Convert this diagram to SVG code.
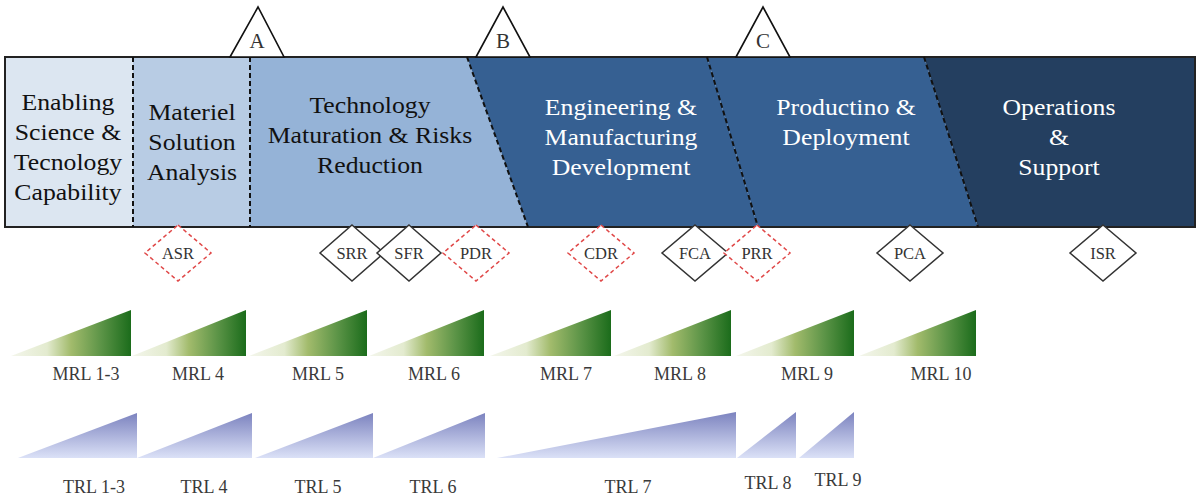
<svg xmlns="http://www.w3.org/2000/svg" width="1200" height="497" viewBox="0 0 1200 497" font-family="'Liberation Serif', 'Times New Roman', serif">
<defs>
<linearGradient id="mrl" x1="0" y1="0" x2="1" y2="0">
<stop offset="0" stop-color="#f4f6ec"/>
<stop offset="0.3" stop-color="#e3ebcf"/>
<stop offset="0.5" stop-color="#a2bb6c"/>
<stop offset="0.75" stop-color="#5c9447"/>
<stop offset="1" stop-color="#1b6c1b"/>
</linearGradient>
<linearGradient id="trl" x1="0" y1="0" x2="0" y2="1">
<stop offset="0" stop-color="#7c83bf"/>
<stop offset="1" stop-color="#dbe1f7"/>
</linearGradient>
<style>
.ph{font-size:23px;text-anchor:middle}
.dk{fill:#111}
.wt{fill:#ffffff}
.div{stroke:#111;stroke-width:2;stroke-dasharray:5 3;fill:none}
.ms{fill:#fff;stroke:#111;stroke-width:1.6}
.msl{font-size:21px;fill:#333;text-anchor:middle}
.rv{fill:#fff;stroke:#333;stroke-width:1.5}
.rvr{fill:#fff;stroke:#e04848;stroke-width:1.5;stroke-dasharray:4 3}
.rl{font-size:16.5px;fill:#333;text-anchor:middle}
.lv{font-size:18px;fill:#3a3a3a;text-anchor:middle}
.m{fill:url(#mrl)}
.t{fill:url(#trl)}
</style>
</defs>
<rect width="1200" height="497" fill="#ffffff"/>

<g id="phases">
<g id="phase-enabling">
<rect x="5" y="57" width="128" height="170" fill="#dce6f1"/>
<text class="ph dk" transform="translate(68 110) scale(1.12 1)">Enabling</text>
<text class="ph dk" transform="translate(68 140) scale(1.12 1)">Science &amp;</text>
<text class="ph dk" transform="translate(68 170) scale(1.12 1)">Tecnology</text>
<text class="ph dk" transform="translate(68 200) scale(1.12 1)">Capability</text>
</g>
<g id="phase-msa">
<rect x="133" y="57" width="117" height="170" fill="#b8cce4"/>
<text class="ph dk" transform="translate(192 120) scale(1.12 1)">Materiel</text>
<text class="ph dk" transform="translate(192 150) scale(1.12 1)">Solution</text>
<text class="ph dk" transform="translate(192 180) scale(1.12 1)">Analysis</text>
</g>
<g id="phase-tmrr">
<polygon points="250,57 467,57 528,227 250,227" fill="#95b3d7"/>
<text class="ph dk" transform="translate(370 113) scale(1.12 1)">Technology</text>
<text class="ph dk" transform="translate(370 143) scale(1.12 1)">Maturation &amp; Risks</text>
<text class="ph dk" transform="translate(370 173) scale(1.12 1)">Reduction</text>
</g>
<g id="phase-emd">
<polygon points="467,57 707,57 758,227 528,227" fill="#366092"/>
<text class="ph wt" transform="translate(621 115) scale(1.12 1)">Engineering &amp;</text>
<text class="ph wt" transform="translate(621 145) scale(1.12 1)">Manufacturing</text>
<text class="ph wt" transform="translate(621 175) scale(1.12 1)">Development</text>
</g>
<g id="phase-pd">
<polygon points="707,57 924,57 978,227 758,227" fill="#366092"/>
<text class="ph wt" transform="translate(846 115) scale(1.12 1)">Productino &amp;</text>
<text class="ph wt" transform="translate(846 145) scale(1.12 1)">Deployment</text>
</g>
<g id="phase-os">
<polygon points="924,57 1195,57 1195,227 978,227" fill="#243f60"/>
<text class="ph wt" transform="translate(1059 115) scale(1.12 1)">Operations</text>
<text class="ph wt" transform="translate(1059 145) scale(1.12 1)">&amp;</text>
<text class="ph wt" transform="translate(1059 175) scale(1.12 1)">Support</text>
</g>
<rect x="5" y="57" width="1190" height="170" fill="none" stroke="#222" stroke-width="2"/>
</g>

<g id="connectors">
<line class="div" x1="133" y1="57" x2="133" y2="227"/>
<line class="div" x1="250" y1="57" x2="250" y2="227"/>
<line class="div" x1="467" y1="57" x2="528" y2="227"/>
<line class="div" x1="707" y1="57" x2="758" y2="227"/>
<line class="div" x1="924" y1="57" x2="978" y2="227"/>
</g>

<g id="milestone-A">
<polygon class="ms" points="230,57 258,7 284,57"/>
<text class="msl" x="257" y="48">A</text>
</g>
<g id="milestone-B">
<polygon class="ms" points="476,57 503,7 530,57"/>
<text class="msl" x="503" y="48">B</text>
</g>
<g id="milestone-C">
<polygon class="ms" points="736,57 763,7 790,57"/>
<text class="msl" x="763" y="48">C</text>
</g>

<g id="review-ASR"><polygon class="rvr" points="178,225 211,253 178,281 145,253"/><text class="rl" x="178" y="259">ASR</text></g>
<g id="review-SRR"><polygon class="rv" points="352,225 384,253 352,281 320,253"/><text class="rl" x="352" y="259">SRR</text></g>
<g id="review-SFR"><polygon class="rv" points="409,225 441,253 409,281 377,253"/><text class="rl" x="409" y="259">SFR</text></g>
<g id="review-PDR"><polygon class="rvr" points="476,225 509,253 476,281 443,253"/><text class="rl" x="476" y="259">PDR</text></g>
<g id="review-CDR"><polygon class="rvr" points="601,225 634,253 601,281 568,253"/><text class="rl" x="601" y="259">CDR</text></g>
<g id="review-FCA"><polygon class="rv" points="695,225 728,253 695,281 662,253"/><text class="rl" x="695" y="259">FCA</text></g>
<g id="review-PRR"><polygon class="rvr" points="757,225 790,253 757,281 724,253"/><text class="rl" x="757" y="259">PRR</text></g>
<g id="review-PCA"><polygon class="rv" points="910,225 943,253 910,281 877,253"/><text class="rl" x="910" y="259">PCA</text></g>
<g id="review-ISR"><polygon class="rv" points="1103,225 1136,253 1103,281 1070,253"/><text class="rl" x="1103" y="259">ISR</text></g>

<g id="mrl-1-3"><polygon class="m" points="11,356 131,310 131,356"/><text class="lv" x="86" y="380">MRL 1-3</text></g>
<g id="mrl-4"><polygon class="m" points="132,356 246,310 246,356"/><text class="lv" x="198" y="380">MRL 4</text></g>
<g id="mrl-5"><polygon class="m" points="249,356 367,310 367,356"/><text class="lv" x="318" y="380">MRL 5</text></g>
<g id="mrl-6"><polygon class="m" points="369,356 484,310 484,356"/><text class="lv" x="434" y="380">MRL 6</text></g>
<g id="mrl-7"><polygon class="m" points="490,356 611,310 611,356"/><text class="lv" x="566" y="380">MRL 7</text></g>
<g id="mrl-8"><polygon class="m" points="614,356 731,310 731,356"/><text class="lv" x="680" y="380">MRL 8</text></g>
<g id="mrl-9"><polygon class="m" points="736,356 854,310 854,356"/><text class="lv" x="807" y="380">MRL 9</text></g>
<g id="mrl-10"><polygon class="m" points="859,356 976,310 976,356"/><text class="lv" x="941" y="380">MRL 10</text></g>

<g id="trl-1-3"><polygon class="t" points="18,458 137,413 137,458"/><text class="lv" x="94" y="493">TRL 1-3</text></g>
<g id="trl-4"><polygon class="t" points="137,458 252,413 252,458"/><text class="lv" x="204" y="493">TRL 4</text></g>
<g id="trl-5"><polygon class="t" points="255,458 373,413 373,458"/><text class="lv" x="318" y="493">TRL 5</text></g>
<g id="trl-6"><polygon class="t" points="373,458 485,413 485,458"/><text class="lv" x="433" y="493">TRL 6</text></g>
<g id="trl-7"><polygon class="t" points="497,458 736,412 736,458"/><text class="lv" x="628" y="493">TRL 7</text></g>
<g id="trl-8"><polygon class="t" points="737,458 796,412 796,458"/><text class="lv" x="768" y="489">TRL 8</text></g>
<g id="trl-9"><polygon class="t" points="799,458 854,412 854,458"/><text class="lv" x="838" y="486">TRL 9</text></g>
</svg>
